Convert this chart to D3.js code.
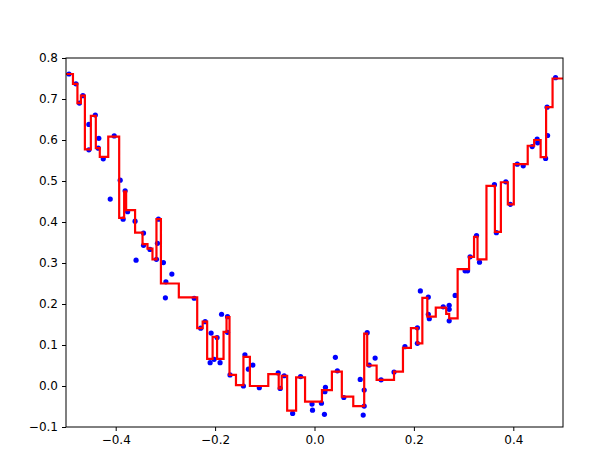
<!DOCTYPE html>
<html>
<head>
<meta charset="utf-8">
<script src="https://cdn.jsdelivr.net/npm/d3@7"></script>
<style>
body { margin: 0; background: #fff; }
text { font-family: "DejaVu Sans", sans-serif; }
</style>
</head>
<body>
<svg id="chart"></svg>
<script>
// Scatter samples
const pointX = [-0.494,-0.480,-0.473,-0.466,-0.454,-0.454,-0.441,-0.434,-0.435,-0.425,-0.403,-0.411,-0.391,-0.385,-0.381,-0.376,-0.361,-0.359,-0.344,-0.344,-0.331,-0.318,-0.316,-0.314,-0.304,-0.299,-0.287,-0.300,-0.242,
  -0.229,-0.220,-0.208,-0.210,-0.196,-0.202,-0.190,-0.187,-0.175,-0.175,-0.170,-0.143,-0.140,-0.133,-0.124,-0.111,-0.073,-0.069,-0.061,-0.044,-0.028,-0.005,-0.004,0.014,0.020,0.022,0.021,0.042,0.046,0.059,0.092,0.100,0.100,0.098,0.106,0.110,0.122,
  0.134,0.160,0.182,0.207,0.207,0.213,0.229,0.229,0.231,0.259,0.271,0.271,0.271,0.283,0.303,0.308,0.313,0.326,0.332,0.362,0.366,0.385,0.394,0.408,0.420,0.438,0.448,0.449,0.465,0.469,0.468,0.485];
const pointY = [0.761,0.737,0.690,0.708,0.638,0.576,0.661,0.604,0.580,0.554,0.610,0.456,0.502,0.407,0.476,0.425,0.402,0.307,0.373,0.343,0.333,0.309,0.348,0.407,0.301,0.254,0.273,0.215,0.214,
  0.141,0.157,0.129,0.057,0.118,0.065,0.057,0.175,0.169,0.131,0.027,0.000,0.076,0.041,0.051,-0.004,0.032,-0.006,0.025,-0.067,0.023,-0.044,-0.059,-0.042,-0.069,-0.003,-0.014,0.070,0.037,-0.028,0.016,-0.010,-0.049,-0.071,0.130,0.051,0.068,
  0.015,0.034,0.096,0.142,0.104,0.232,0.217,0.175,0.164,0.193,0.197,0.187,0.159,0.221,0.281,0.281,0.315,0.367,0.302,0.491,0.374,0.498,0.443,0.541,0.537,0.584,0.602,0.593,0.555,0.611,0.680,0.752];

// Fitted step model: level starts at stepX[i]
const stepX = [-0.5,-0.486,-0.477,-0.470,-0.462,-0.450,-0.440,-0.432,-0.415,-0.393,-0.383,-0.379,-0.361,-0.346,-0.336,-0.326,-0.318,-0.309,-0.273,
  -0.236,-0.225,-0.216,-0.205,-0.196,-0.183,-0.177,-0.171,-0.158,-0.143,-0.130,-0.093,-0.072,-0.066,-0.055,-0.037,-0.019,0.015,0.035,0.055,0.078,0.100,0.106,0.125,0.160,0.178,
  0.194,0.207,0.217,0.227,0.244,0.265,0.271,0.288,0.311,0.321,0.328,0.346,0.363,0.375,0.389,0.401,0.429,0.442,0.455,0.466,0.479];
const stepY = [0.761,0.737,0.690,0.708,0.577,0.659,0.580,0.559,0.608,0.410,0.474,0.429,0.374,0.346,0.335,0.309,0.407,0.250,0.216,
  0.141,0.157,0.066,0.120,0.066,0.132,0.168,0.027,0.002,0.071,0.000,0.029,-0.006,0.025,-0.060,0.021,-0.038,-0.010,0.035,-0.026,-0.049,0.128,0.050,0.015,0.035,0.093,
  0.141,0.104,0.215,0.169,0.191,0.176,0.165,0.285,0.315,0.364,0.309,0.488,0.376,0.497,0.443,0.541,0.586,0.600,0.558,0.680,0.750];

const xTicks = [-0.4, -0.2, 0.0, 0.2, 0.4];
const yTicks = [-0.1, 0.0, 0.1, 0.2, 0.3, 0.4, 0.5, 0.6, 0.7, 0.8];

const Width = 606, Height = 471;
const Left = 66, Right = 563, Top = 58, Bottom = 427;

const svg = d3.select("#chart").attr("width", Width).attr("height", Height);

const xScale = d3.scaleLinear().domain([-0.5, 0.5]).range([Left, Right]);
const yScale = d3.scaleLinear().domain([-0.1, 0.8]).range([Bottom, Top]);

const fmt = d => d3.format(".1f")(d).replace("-", "\u2212");

const xAxis = svg.append("g")
  .attr("transform", `translate(0,${Bottom})`)
  .call(d3.axisBottom(xScale).tickValues(xTicks).tickFormat(fmt).tickSize(4).tickPadding(4));
const yAxis = svg.append("g")
  .attr("transform", `translate(${Left},0)`)
  .call(d3.axisLeft(yScale).tickValues(yTicks).tickFormat(fmt).tickSize(4).tickPadding(4));
[xAxis, yAxis].forEach(a => {
  a.select(".domain").remove();
  a.selectAll("text").style("font-size", "12px").attr("fill", "#000");
  a.selectAll("line").attr("stroke", "#000");
});

// Clip to plot area
svg.append("clipPath").attr("id", "clip")
  .append("rect").attr("x", Left).attr("y", Top).attr("width", Right - Left).attr("height", Bottom - Top);

const plot = svg.append("g").attr("clip-path", "url(#clip)");

// Dots
plot.selectAll("circle")
  .data(pointX.map((x, i) => [x, pointY[i]]))
  .enter()
  .append("circle")
  .attr("cx", d => xScale(d[0]))
  .attr("cy", d => yScale(d[1]))
  .attr("r", 2.6)
  .attr("fill", "#0000ff");

// Step line
const stepPts = stepX.map((x, i) => [x, stepY[i]]);
stepPts.push([0.5, stepY[stepY.length - 1]]);
const line = d3.line()
  .x(d => xScale(d[0]))
  .y(d => yScale(d[1]))
  .curve(d3.curveStepAfter);
plot.append("path")
  .datum(stepPts)
  .attr("d", line)
  .attr("fill", "none")
  .attr("stroke", "#ff0000")
  .attr("stroke-width", 2.2);

// Frame
svg.append("rect")
  .attr("x", Left).attr("y", Top)
  .attr("width", Right - Left).attr("height", Bottom - Top)
  .attr("fill", "none").attr("stroke", "#000").attr("stroke-width", 1);
</script>
</body>
</html>
